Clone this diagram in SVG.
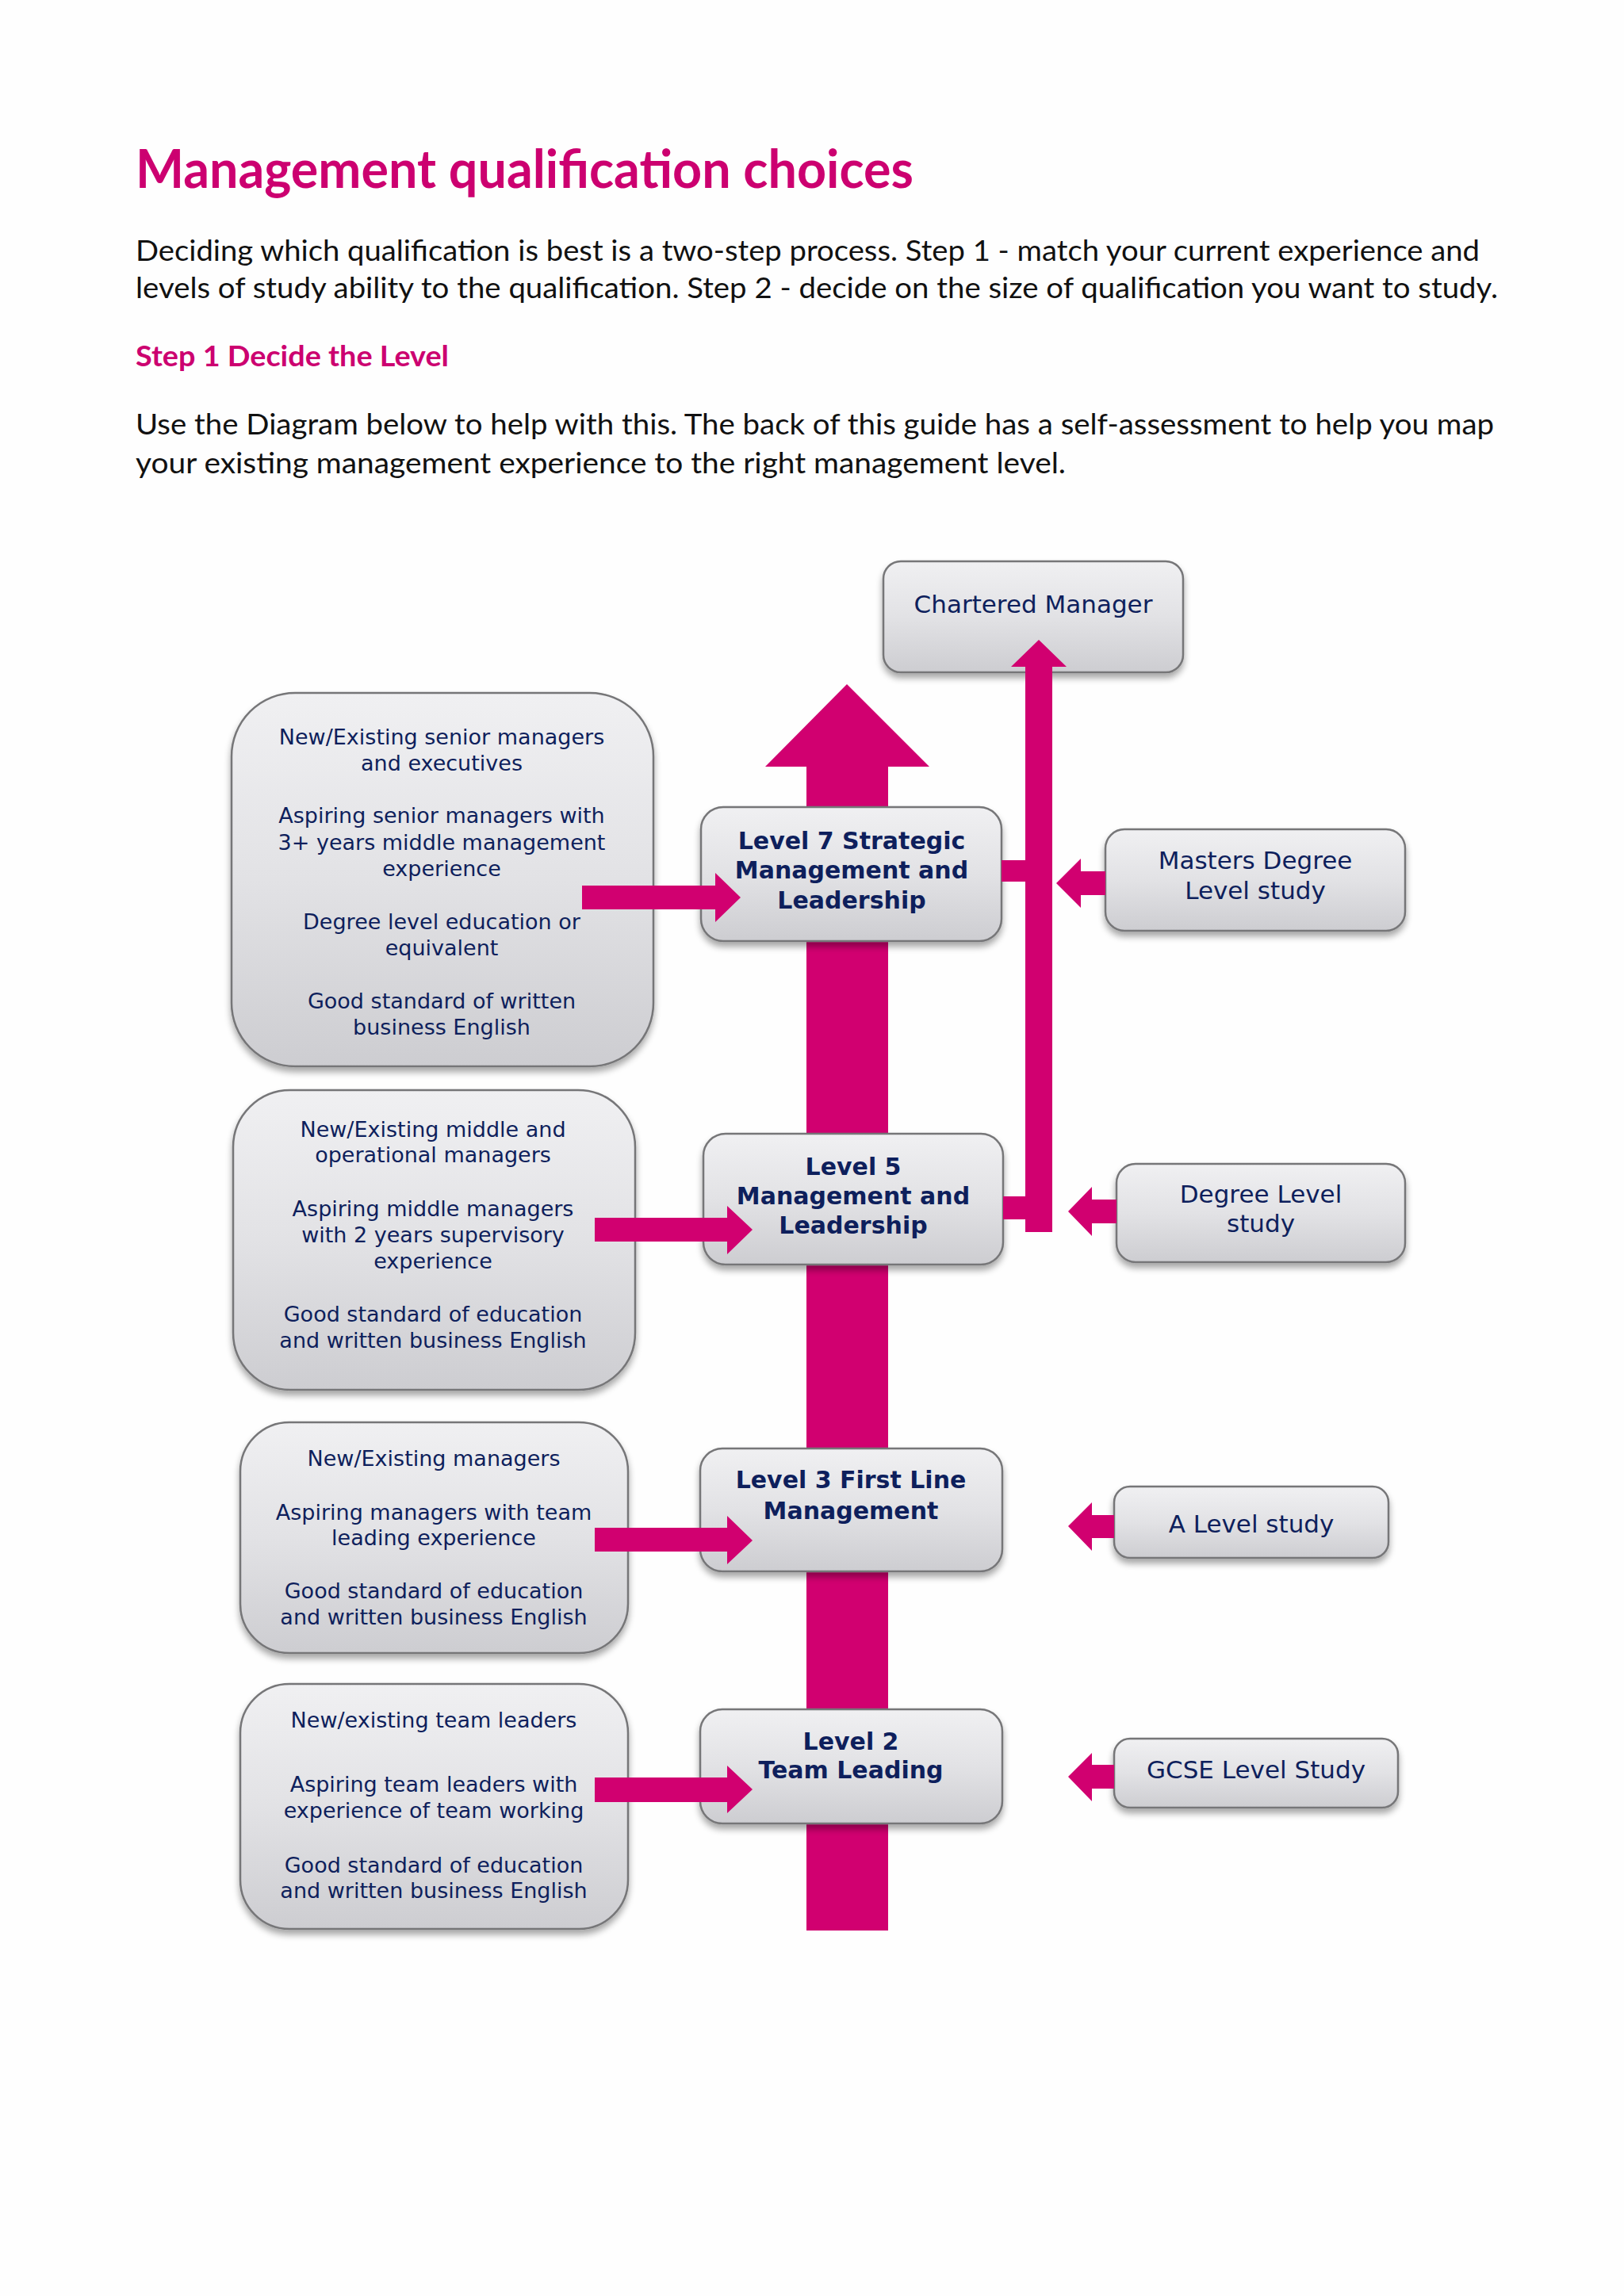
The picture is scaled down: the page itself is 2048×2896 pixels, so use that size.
<svg xmlns="http://www.w3.org/2000/svg" width="2048" height="2896" viewBox="0 0 2048 2896">
<defs>
  <linearGradient id="boxGrad" x1="0" y1="0" x2="0" y2="1">
    <stop offset="0" stop-color="#F0F0F2"/>
    <stop offset="0.5" stop-color="#E2E2E5"/>
    <stop offset="1" stop-color="#CDCDD1"/>
  </linearGradient>
  <filter id="shadow" x="-10%" y="-10%" width="120%" height="130%">
    <feGaussianBlur in="SourceAlpha" stdDeviation="4"/>
    <feOffset dx="0" dy="6" result="b"/>
    <feComponentTransfer><feFuncA type="linear" slope="0.35"/></feComponentTransfer>
    <feMerge><feMergeNode/><feMergeNode in="SourceGraphic"/></feMerge>
  </filter>
  <style>
    .box { fill: url(#boxGrad); stroke: #767678; stroke-width: 2.5; filter: url(#shadow); }
    .t { font-family: "DejaVu Sans", Verdana, sans-serif; fill: #0E1F5C; text-anchor: middle; }
    .small { font-size: 27px; }
    .mid { font-size: 31px; }
    .bold { font-size: 30px; font-weight: bold; }
    .arrow { fill: #D10070; }
    .body { font-family: Lato, "Open Sans", sans-serif; font-size: 36px; fill: #111111; }
    .title { font-family: Lato, "Open Sans", sans-serif; font-size: 66px; font-weight: bold; fill: #CC0070; }
    .mag { fill: #CC0070; font-weight: bold; }
  </style>
</defs>
<rect x="0" y="0" width="2048" height="2896" fill="#FEFEFE"/>

<g id="header">
  <text class="title" x="171" y="237" textLength="981" lengthAdjust="spacingAndGlyphs">Management qualification choices</text>
  <text class="body" x="171" y="329" textLength="1695" lengthAdjust="spacingAndGlyphs">Deciding which qualification is best is a two-step process. Step 1 - match your current experience and</text>
  <text class="body" x="171" y="376" textLength="1718" lengthAdjust="spacingAndGlyphs">levels of study ability to the qualification. Step 2 - decide on the size of qualification you want to study.</text>
  <text class="body mag" x="171" y="462" textLength="395" lengthAdjust="spacingAndGlyphs">Step 1 Decide the Level</text>
  <text class="body" x="171" y="548" textLength="1713" lengthAdjust="spacingAndGlyphs">Use the Diagram below to help with this. The back of this guide has a self-assessment to help you map</text>
  <text class="body" x="171" y="597" textLength="1173" lengthAdjust="spacingAndGlyphs">your existing management experience to the right management level.</text>
</g>

<g id="connectors-under">
  <polygon class="arrow" points="1068,863 1172,967 1120,967 1120,2435 1017,2435 1017,967 965,967"/>
</g>

<g id="node-chartered">
  <rect class="box" x="1114" y="708" width="378" height="140" rx="22"/>
  <text class="t mid" x="1303" y="773">Chartered Manager</text>
</g>

<g id="node-senior">
  <rect class="box" x="292" y="874" width="532" height="471" rx="80"/>
  <text class="t small" x="557" y="939">New/Existing senior managers</text>
  <text class="t small" x="557" y="972">and executives</text>
  <text class="t small" x="557" y="1038">Aspiring senior managers with</text>
  <text class="t small" x="557" y="1072">3+ years middle management</text>
  <text class="t small" x="557" y="1105">experience</text>
  <text class="t small" x="557" y="1172">Degree level education or</text>
  <text class="t small" x="557" y="1205">equivalent</text>
  <text class="t small" x="557" y="1272">Good standard of written</text>
  <text class="t small" x="557" y="1305">business English</text>
</g>

<g id="node-middle">
  <rect class="box" x="294" y="1375" width="507" height="378" rx="72"/>
  <text class="t small" x="546" y="1434">New/Existing middle and</text>
  <text class="t small" x="546" y="1466">operational managers</text>
  <text class="t small" x="546" y="1534">Aspiring middle managers</text>
  <text class="t small" x="546" y="1567">with 2 years supervisory</text>
  <text class="t small" x="546" y="1600">experience</text>
  <text class="t small" x="546" y="1667">Good standard of education</text>
  <text class="t small" x="546" y="1700">and written business English</text>
</g>

<g id="node-managers">
  <rect class="box" x="303" y="1794" width="489" height="291" rx="62"/>
  <text class="t small" x="547" y="1849">New/Existing managers</text>
  <text class="t small" x="547" y="1917">Aspiring managers with team</text>
  <text class="t small" x="547" y="1949">leading experience</text>
  <text class="t small" x="547" y="2016">Good standard of education</text>
  <text class="t small" x="547" y="2049">and written business English</text>
</g>

<g id="node-teamleaders">
  <rect class="box" x="303" y="2124" width="489" height="309" rx="62"/>
  <text class="t small" x="547" y="2179">New/existing team leaders</text>
  <text class="t small" x="547" y="2260">Aspiring team leaders with</text>
  <text class="t small" x="547" y="2293">experience of team working</text>
  <text class="t small" x="547" y="2362">Good standard of education</text>
  <text class="t small" x="547" y="2394">and written business English</text>
</g>

<g id="node-level7">
  <rect class="box" x="884" y="1018" width="379" height="169" rx="28"/>
  <text class="t bold" x="1074" y="1071">Level 7 Strategic</text>
  <text class="t bold" x="1074" y="1108">Management and</text>
  <text class="t bold" x="1074" y="1146">Leadership</text>
</g>

<g id="node-level5">
  <rect class="box" x="887" y="1430" width="378" height="165" rx="28"/>
  <text class="t bold" x="1076" y="1482">Level 5</text>
  <text class="t bold" x="1076" y="1519">Management and</text>
  <text class="t bold" x="1076" y="1556">Leadership</text>
</g>

<g id="node-level3">
  <rect class="box" x="883" y="1827" width="381" height="155" rx="28"/>
  <text class="t bold" x="1073" y="1877">Level 3 First Line</text>
  <text class="t bold" x="1073" y="1916">Management</text>
</g>

<g id="node-level2">
  <rect class="box" x="883" y="2156" width="381" height="144" rx="28"/>
  <text class="t bold" x="1073" y="2207">Level 2</text>
  <text class="t bold" x="1073" y="2243">Team Leading</text>
</g>

<g id="node-masters">
  <rect class="box" x="1394" y="1046" width="378" height="128" rx="24"/>
  <text class="t mid" x="1583" y="1096">Masters Degree</text>
  <text class="t mid" x="1583" y="1134">Level study</text>
</g>

<g id="node-degree">
  <rect class="box" x="1408" y="1468" width="364" height="124" rx="24"/>
  <text class="t mid" x="1590" y="1517">Degree Level</text>
  <text class="t mid" x="1590" y="1554">study</text>
</g>

<g id="node-alevel">
  <rect class="box" x="1405" y="1875" width="346" height="90" rx="20"/>
  <text class="t mid" x="1578" y="1933">A Level study</text>
</g>

<g id="node-gcse">
  <rect class="box" x="1405" y="2193" width="358" height="87" rx="20"/>
  <text class="t mid" x="1584" y="2243">GCSE Level Study</text>
</g>

<g id="connectors">
  <polygon class="arrow" points="1310,807 1345,841 1327,841 1327,1554 1293,1554 1293,1538 1265,1538 1265,1509 1293,1509 1293,1112 1263,1112 1263,1085 1293,1085 1293,841 1275,841"/>
  <polygon class="arrow" points="734,1117 902,1117 902,1101 934,1132 902,1163 902,1147 734,1147"/>
  <polygon class="arrow" points="750,1536 917,1536 917,1521 949,1551 917,1582 917,1566 750,1566"/>
  <polygon class="arrow" points="750,1927 917,1927 917,1912 949,1943 917,1973 917,1957 750,1957"/>
  <polygon class="arrow" points="750,2242 917,2242 917,2227 949,2257 917,2287 917,2273 750,2273"/>
  <polygon class="arrow" points="1394,1099 1363,1099 1363,1083 1332,1114 1363,1145 1363,1129 1394,1129"/>
  <polygon class="arrow" points="1408,1513 1377,1513 1377,1497 1347,1528 1377,1559 1377,1543 1408,1543"/>
  <polygon class="arrow" points="1405,1911 1377,1911 1377,1895 1347,1925 1377,1956 1377,1940 1405,1940"/>
  <polygon class="arrow" points="1405,2226 1377,2226 1377,2211 1347,2241 1377,2272 1377,2256 1405,2256"/>
</g>
</svg>
